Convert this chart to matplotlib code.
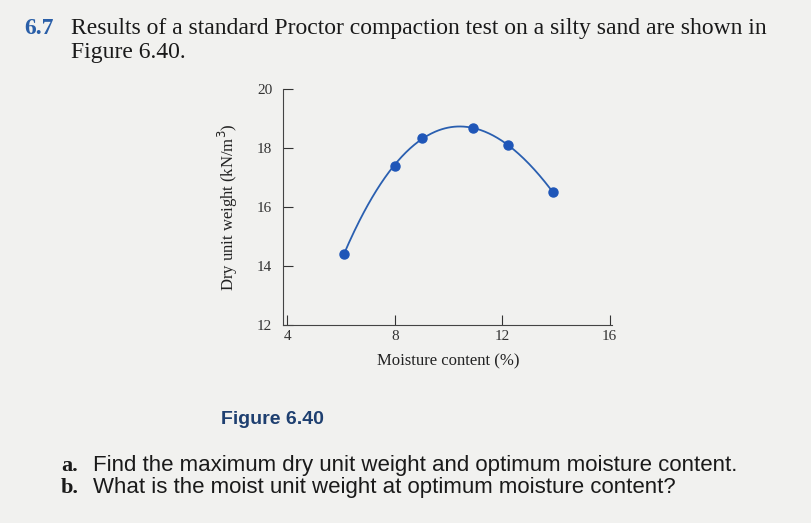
import numpy as np
import matplotlib.pyplot as plt

# values
moisture = [6.1, 8.0, 9.0, 10.9, 12.2, 13.9]
dry_unit_weight = [14.4, 17.4, 18.35, 18.7, 18.1, 16.5]
x_ticks = [4, 8, 12, 16]
y_ticks = [12, 14, 16, 18, 20]

plt.rcParams['font.family'] = ['Liberation Serif', 'DejaVu Serif']

fig = plt.figure(figsize=(8.12, 5.23), dpi=100)
fig.patch.set_facecolor('#f1f1ef')

ax = fig.add_axes([0.349, 0.379, 0.405, 0.45])
ax.set_facecolor('#f1f1ef')

# smooth trend line through the test points
coef = np.polyfit(moisture, dry_unit_weight, 3)
xs = np.linspace(moisture[0], moisture[-1], 200)
ax.plot(xs, np.polyval(coef, xs), color='#2a5fb0', lw=1.3)
ax.plot(moisture, dry_unit_weight, 'o', color='#1f56b8', ms=6.5)

ax.set_xlim(3.85, 16.1)
ax.set_ylim(12, 20)
ax.set_xticks(x_ticks)
ax.set_yticks(y_ticks)
ax.tick_params(direction='in', length=7, labelsize=11, colors='#333333')
ax.tick_params(axis='y', pad=8)
for s in ['top', 'right']:
    ax.spines[s].set_visible(False)
for s in ['left', 'bottom']:
    ax.spines[s].set_color('#444444')
ax.set_xlabel('Moisture content (%)', fontsize=12, color='#222222', labelpad=8)
ax.set_ylabel('Dry unit weight (kN/m$^3$)', fontsize=12, color='#222222', labelpad=12)

fig.text(0.03, 0.935, '6.7', fontsize=17, color='#2a5fa8', fontweight='bold')
fig.text(0.088, 0.935, 'Results of a standard Proctor compaction test on a silty sand are shown in',
         fontsize=17, color='#1a1a1a')
fig.text(0.088, 0.89, 'Figure 6.40.', fontsize=17, color='#1a1a1a')
fig.text(0.272, 0.19, 'Figure 6.40', fontsize=14, fontweight='bold', color='#1e3f70',
         family=['Liberation Sans'])
fig.text(0.075, 0.1, 'a.', fontsize=16, fontweight='bold', color='#1a1a1a')
fig.text(0.115, 0.1, 'Find the maximum dry unit weight and optimum moisture content.',
         fontsize=16, color='#1a1a1a', family=['Liberation Sans'])
fig.text(0.075, 0.057, 'b.', fontsize=16, fontweight='bold', color='#1a1a1a')
fig.text(0.115, 0.057, 'What is the moist unit weight at optimum moisture content?',
         fontsize=16, color='#1a1a1a', family=['Liberation Sans'])

fig.savefig('out.png', dpi=100, facecolor=fig.get_facecolor())
